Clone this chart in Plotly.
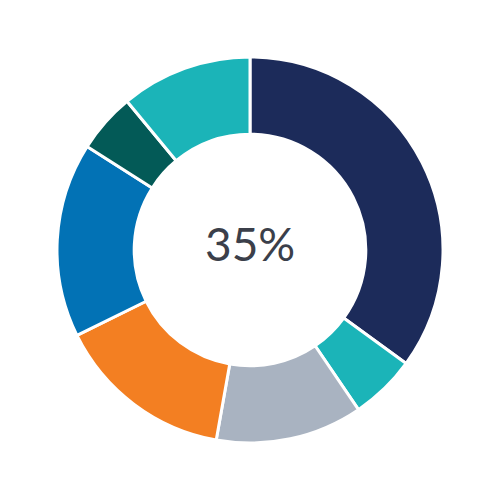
import plotly.graph_objects as go

# slices, clockwise from 12 o'clock
labels = ["A", "B", "C", "D", "E", "F", "G"]
values = [35, 5.5, 12.3, 14.9, 16.3, 5, 11]
colors = ["#1c2b5a", "#1bb4b8", "#a9b3c1", "#f37f22", "#0272b5", "#035a57", "#1bb4b8"]
center_text = "35%"

fig = go.Figure()
fig.add_trace(go.Pie(
    labels=labels,
    values=values,
    hole=0.6,
    sort=False,
    direction="clockwise",
    rotation=0,
    textinfo="none",
    hoverinfo="none",
    marker=dict(colors=colors, line=dict(color="white", width=3)),
))

fig.add_annotation(
    text=center_text, x=0.5, y=0.518, xref="paper", yref="paper",
    showarrow=False, font=dict(family="Lato", size=46, color="#3b3f4a"),
)

# page body has an 8px margin, so shift the pie up/left to sit centred
fig.update_layout(
    width=500, height=500,
    margin=dict(l=49, r=65, t=49, b=65),
    showlegend=False,
    paper_bgcolor="white",
    plot_bgcolor="white",
)

fig.write_html("out.html")
